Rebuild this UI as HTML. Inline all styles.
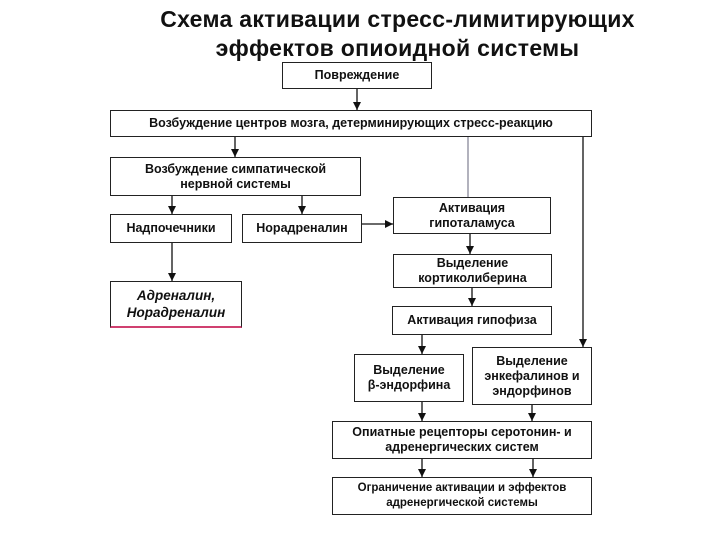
<!DOCTYPE html>
<html><head><meta charset="utf-8"><style>
body{margin:0;width:720px;height:540px;background:#fff;position:relative;overflow:hidden;font-family:"Liberation Sans","DejaVu Sans",sans-serif;}
.t{position:absolute;left:0;width:795px;text-align:center;font-weight:bold;font-size:23px;color:#111;letter-spacing:0.3px}
.b{position:absolute;box-sizing:border-box;border:1.5px solid #222;display:flex;align-items:center;justify-content:center;text-align:center;font-weight:bold;font-size:12.5px;line-height:15px;color:#111;}
svg{position:absolute;left:0;top:0}
</style></head><body>
<div class="t" style="top:6px">Схема активации стресс-лимитирующих</div>
<div class="t" style="top:35px">эффектов опиоидной системы</div>
<svg width="720" height="540">
<defs><marker id="a" markerWidth="9" markerHeight="9" refX="8" refY="4" orient="auto" markerUnits="userSpaceOnUse"><path d="M0,0 L8,4 L0,8z" fill="#111"/></marker></defs>
<g stroke="#111" stroke-width="1.3" fill="none">
<line x1="357" y1="89" x2="357" y2="110" marker-end="url(#a)"/>
<line x1="235" y1="137" x2="235" y2="157" marker-end="url(#a)"/>
<line x1="468" y1="137" x2="468" y2="197" stroke="#889"/>
<line x1="583" y1="137" x2="583" y2="347" marker-end="url(#a)"/>
<line x1="172" y1="196" x2="172" y2="214" marker-end="url(#a)"/>
<line x1="302" y1="196" x2="302" y2="214" marker-end="url(#a)"/>
<line x1="362" y1="224" x2="393" y2="224" marker-end="url(#a)"/>
<line x1="172" y1="243" x2="172" y2="281" marker-end="url(#a)"/>
<line x1="470" y1="234" x2="470" y2="254" marker-end="url(#a)"/>
<line x1="472" y1="288" x2="472" y2="306" marker-end="url(#a)"/>
<line x1="422" y1="335" x2="422" y2="354" marker-end="url(#a)"/>
<line x1="422" y1="402" x2="422" y2="421" marker-end="url(#a)"/>
<line x1="532" y1="405" x2="532" y2="421" marker-end="url(#a)"/>
<line x1="422" y1="459" x2="422" y2="477" marker-end="url(#a)"/>
<line x1="533" y1="459" x2="533" y2="477" marker-end="url(#a)"/>
</g></svg>
<div class="b" style="left:282px;top:62px;width:150px;height:27px">Повреждение</div>
<div class="b" style="left:110px;top:110px;width:482px;height:27px">Возбуждение центров мозга, детерминирующих стресс-реакцию</div>
<div class="b" style="left:110px;top:157px;width:251px;height:39px">Возбуждение симпатической<br>нервной системы</div>
<div class="b" style="left:393px;top:197px;width:158px;height:37px">Активация<br>гипоталамуса</div>
<div class="b" style="left:110px;top:214px;width:122px;height:29px">Надпочечники</div>
<div class="b" style="left:242px;top:214px;width:120px;height:29px">Норадреналин</div>
<div class="b" style="left:110px;top:281px;width:132px;height:47px;font-style:italic;font-size:13.5px;line-height:17px;border-bottom:2px solid #d04070">Адреналин,<br>Норадреналин</div>
<div class="b" style="left:393px;top:254px;width:159px;height:34px">Выделение<br>кортиколиберина</div>
<div class="b" style="left:392px;top:306px;width:160px;height:29px">Активация гипофиза</div>
<div class="b" style="left:354px;top:354px;width:110px;height:48px">Выделение<br>β-эндорфина</div>
<div class="b" style="left:472px;top:347px;width:120px;height:58px">Выделение<br>энкефалинов и<br>эндорфинов</div>
<div class="b" style="left:332px;top:421px;width:260px;height:38px">Опиатные рецепторы серотонин- и<br>адренергических систем</div>
<div class="b" style="left:332px;top:477px;width:260px;height:38px;font-size:11.5px">Ограничение активации и эффектов<br>адренергической системы</div>
</body></html>
